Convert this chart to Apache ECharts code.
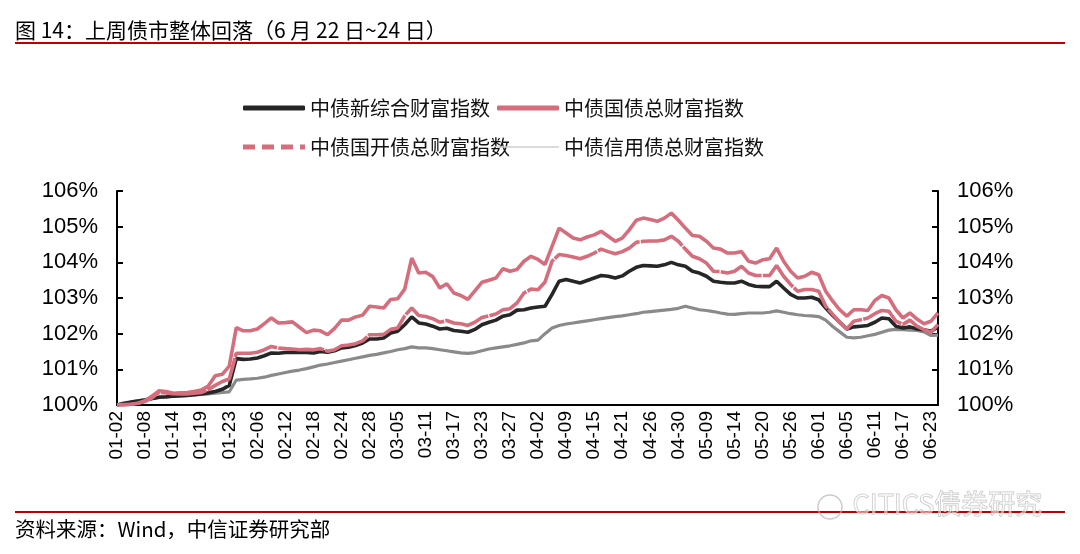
<!DOCTYPE html>
<html lang="zh-CN">
<head>
    <meta charset="UTF-8">
    <title>图 14：上周债市整体回落</title>
    <script src="https://cdn.jsdelivr.net/npm/echarts@6/dist/echarts.min.js"></script>
    <style>
        html, body { margin: 0; padding: 0; background: #fff; }
    </style>
</head>
<body>
<div id="main" style="width: 1080px; height: 554px;"></div>

<script type="text/javascript">
    // 交易日（2020 年）
    var dates = [
        '01-02','01-03','01-06','01-07','01-08','01-09','01-10','01-13','01-14','01-15','01-16','01-17','01-19','01-20','01-21','01-22','01-23',
        '02-03','02-04','02-05','02-06','02-07','02-10','02-11','02-12','02-13','02-14','02-17','02-18','02-19','02-20','02-21','02-24','02-25','02-26','02-27','02-28',
        '03-02','03-03','03-04','03-05','03-06','03-09','03-10','03-11','03-12','03-13','03-16','03-17','03-18','03-19','03-20','03-23','03-24','03-25','03-26','03-27','03-30','03-31',
        '04-01','04-02','04-03','04-07','04-08','04-09','04-10','04-13','04-14','04-15','04-16','04-17','04-20','04-21','04-22','04-23','04-24','04-26','04-27','04-28','04-29','04-30',
        '05-06','05-07','05-08','05-09','05-11','05-12','05-13','05-14','05-15','05-18','05-19','05-20','05-21','05-22','05-25','05-26','05-27','05-28','05-29',
        '06-01','06-02','06-03','06-04','06-05','06-08','06-09','06-10','06-11','06-12','06-15','06-16','06-17','06-18','06-19','06-22','06-23','06-24'
    ];

    // 中债新综合财富指数（%，起点=100）
    var composite = [
        100.00,100.04,100.08,100.11,100.14,100.18,100.22,100.23,100.25,100.26,100.27,100.29,100.31,100.34,100.38,100.44,100.55,
        101.30,101.28,101.29,101.32,101.38,101.46,101.45,101.47,101.48,101.47,101.47,101.46,101.50,101.48,101.52,101.60,101.62,101.67,101.74,101.85,
        101.85,101.88,102.02,102.07,102.25,102.47,102.30,102.27,102.21,102.13,102.15,102.09,102.07,102.04,102.12,102.25,102.32,102.38,102.49,102.53,102.66,102.67,
        102.72,102.75,102.77,103.10,103.47,103.52,103.47,103.42,103.49,103.56,103.63,103.61,103.56,103.62,103.75,103.86,103.91,103.90,103.89,103.93,104.00,103.93,
        103.89,103.75,103.70,103.61,103.47,103.44,103.42,103.42,103.47,103.38,103.33,103.32,103.32,103.47,103.28,103.10,103.00,103.00,103.02,
        102.95,102.72,102.51,102.32,102.13,102.19,102.21,102.23,102.32,102.44,102.42,102.21,102.16,102.19,102.13,102.11,102.07,102.18
    ];

    // 中债国债总财富指数
    var treasury = [
        100.00,100.01,100.02,100.05,100.12,100.25,100.40,100.38,100.33,100.34,100.35,100.38,100.42,100.53,100.82,100.86,101.09,
        102.17,102.08,102.08,102.13,102.28,102.44,102.30,102.31,102.33,102.18,102.03,102.10,102.08,101.97,102.15,102.38,102.38,102.47,102.52,102.77,
        102.75,102.72,102.96,102.98,103.25,104.12,103.70,103.72,103.60,103.28,103.40,103.14,103.07,102.96,103.20,103.44,103.50,103.56,103.82,103.75,103.80,104.03,
        104.17,104.08,103.94,104.45,104.96,104.82,104.68,104.63,104.71,104.77,104.87,104.73,104.59,104.68,104.91,105.18,105.24,105.20,105.15,105.24,105.38,105.18,
        104.96,104.75,104.73,104.59,104.40,104.37,104.26,104.26,104.30,104.03,103.98,104.07,104.10,104.40,104.03,103.75,103.56,103.61,103.72,
        103.65,103.19,102.91,102.67,102.49,102.67,102.67,102.65,102.93,103.07,103.00,102.67,102.44,102.58,102.41,102.28,102.35,102.58
    ];

    // 中债国开债总财富指数
    var cdb = [
        100.00,100.00,100.02,100.05,100.10,100.20,100.36,100.34,100.32,100.31,100.31,100.33,100.35,100.43,100.55,100.66,100.73,
        101.45,101.45,101.45,101.48,101.55,101.64,101.60,101.58,101.57,101.55,101.56,101.55,101.58,101.51,101.55,101.66,101.68,101.72,101.80,101.97,
        101.97,101.98,102.12,102.16,102.50,102.72,102.51,102.48,102.42,102.32,102.37,102.30,102.28,102.23,102.32,102.45,102.50,102.55,102.67,102.70,102.86,103.14,
        103.25,103.23,103.45,104.03,104.22,104.19,104.15,104.10,104.17,104.26,104.37,104.30,104.24,104.30,104.40,104.56,104.59,104.60,104.60,104.63,104.73,104.59,
        104.37,104.17,104.10,103.98,103.75,103.74,103.70,103.75,103.89,103.70,103.63,103.63,103.63,103.91,103.61,103.38,103.19,103.24,103.24,
        103.19,102.77,102.54,102.32,102.13,102.35,102.39,102.44,102.56,102.65,102.63,102.35,102.26,102.38,102.21,102.11,102.04,102.26
    ];

    // 中债信用债总财富指数
    var credit = [
        100.00,100.06,100.09,100.12,100.15,100.18,100.21,100.22,100.24,100.25,100.27,100.28,100.30,100.31,100.33,100.35,100.37,
        100.70,100.72,100.73,100.75,100.78,100.83,100.87,100.91,100.95,100.98,101.02,101.07,101.12,101.15,101.19,101.23,101.27,101.31,101.35,101.39,
        101.42,101.46,101.50,101.55,101.58,101.63,101.60,101.60,101.58,101.55,101.52,101.49,101.46,101.45,101.47,101.52,101.57,101.60,101.63,101.66,101.70,101.74,
        101.80,101.82,102.00,102.16,102.23,102.27,102.30,102.33,102.36,102.39,102.42,102.45,102.48,102.50,102.53,102.56,102.60,102.62,102.64,102.66,102.68,102.71,
        102.77,102.72,102.67,102.65,102.62,102.58,102.55,102.54,102.56,102.58,102.58,102.58,102.60,102.64,102.60,102.56,102.53,102.51,102.50,
        102.48,102.38,102.20,102.05,101.90,101.88,101.90,101.94,101.98,102.04,102.10,102.12,102.11,102.10,102.09,102.05,101.95,101.96
    ];

    var names = ['中债新综合财富指数', '中债国债总财富指数', '中债国开债总财富指数', '中债信用债总财富指数'];
    var yTicks = [100, 101, 102, 103, 104, 105, 106];

    var FONT = '"Noto Sans CJK SC", "Noto Sans", sans-serif';
    var NUM_FONT = '"Liberation Sans", Arial, sans-serif';
    var BLACK = '#262626', PINK = '#d66d7c', GREY = '#8a8a8a';

    // 图例图标（虚线段）
    var DASH_ICON = 'path://M0,0h12v5h-12z M19,0h12v5h-12z M38,0h12v5h-12z M57,0h5v5h-5z';

    var myChart = echarts.init(document.getElementById('main'));

    function legendAt(name, left, top, icon, h, color) {
        return {
            data: [{ name: name, icon: icon, itemStyle: { color: color, borderWidth: 0 } }],
            left: left,
            top: top,
            itemWidth: 62,
            itemHeight: h,
            itemGap: 6,
            textStyle: { fontFamily: FONT, fontSize: 20, color: '#111' }
        };
    }

    var yAxisCommon = {
        type: 'value',
        min: yTicks[0],
        max: yTicks[yTicks.length - 1],
        interval: 1,
        splitLine: { show: false },
        axisLine: { show: true, lineStyle: { color: '#000', width: 2 } },
        axisTick: { show: true, inside: true, length: 6, lineStyle: { color: '#000', width: 2 } },
        axisLabel: {
            formatter: '{value}%',
            fontFamily: NUM_FONT,
            fontSize: 22,
            color: '#000',
            margin: 19
        }
    };

    var option = {
        backgroundColor: '#fff',
        animation: false,
        title: {
            text: '图 14：上周债市整体回落（6 月 22 日~24 日）',
            left: 10,
            top: 15,
            textStyle: { fontFamily: FONT, fontSize: 21, fontWeight: 'normal', color: '#000' }
        },
        graphic: [
            { type: 'line', shape: { x1: 15, y1: 43, x2: 1065, y2: 43 }, style: { stroke: '#c00000', lineWidth: 2 } },
            { type: 'line', shape: { x1: 15, y1: 512, x2: 1065, y2: 512 }, style: { stroke: '#c00000', lineWidth: 2 } },
            {
                type: 'text', left: 15, top: 519,
                style: { text: '资料来源：Wind，中信证券研究部', font: '20.5px ' + FONT, fill: '#000' }
            },
            {
                type: 'text', left: 852, top: 490, z: 10,
                style: {
                    text: 'CITICS债券研究', font: '27px ' + FONT,
                    fill: 'rgba(255,255,255,0.5)', stroke: 'rgba(170,170,170,0.7)', lineWidth: 1
                }
            },
            {
                type: 'circle', shape: { cx: 830, cy: 507, r: 12 }, z: 10,
                style: { fill: 'none', stroke: 'rgba(180,180,180,0.7)', lineWidth: 1.5 }
            }
        ],
        legend: [
            legendAt(names[0], 238, 93, 'roundRect', 5, BLACK),
            legendAt(names[1], 492, 93, 'roundRect', 5, PINK),
            legendAt(names[2], 238, 132, DASH_ICON, 5, PINK),
            legendAt(names[3], 492, 132, 'rect', 1.5, '#cfcfcf')
        ],
        grid: { left: 117, right: 142, top: 191, bottom: 149 },
        xAxis: {
            type: 'category',
            boundaryGap: false,
            data: dates,
            axisLine: { lineStyle: { color: '#000', width: 2 } },
            axisTick: { show: false },
            axisLabel: {
                interval: 3,
                rotate: 90,
                fontFamily: NUM_FONT,
                fontSize: 19,
                color: '#000',
                margin: 6
            }
        },
        yAxis: [
            echarts.util.merge({ position: 'left' }, yAxisCommon, true),
            echarts.util.merge({ position: 'right' }, yAxisCommon, true)
        ],
        series: [
            {
                name: names[3], type: 'line', data: credit, symbol: 'none',
                lineStyle: { color: GREY, width: 3.2 }, itemStyle: { color: GREY }
            },
            {
                name: names[0], type: 'line', data: composite, symbol: 'none',
                lineStyle: { color: BLACK, width: 3.6 }, itemStyle: { color: BLACK }
            },
            {
                // 虚线模式随线宽缩放：约 165px 实线、4px 间隔
                name: names[2], type: 'line', data: cdb, symbol: 'none',
                lineStyle: { color: PINK, width: 3.6, type: [46, 1.2] }, itemStyle: { color: PINK }
            },
            {
                name: names[1], type: 'line', data: treasury, symbol: 'none',
                lineStyle: { color: PINK, width: 3.6 }, itemStyle: { color: PINK }
            }
        ]
    };

    myChart.setOption(option);
</script>
</body>
</html>
